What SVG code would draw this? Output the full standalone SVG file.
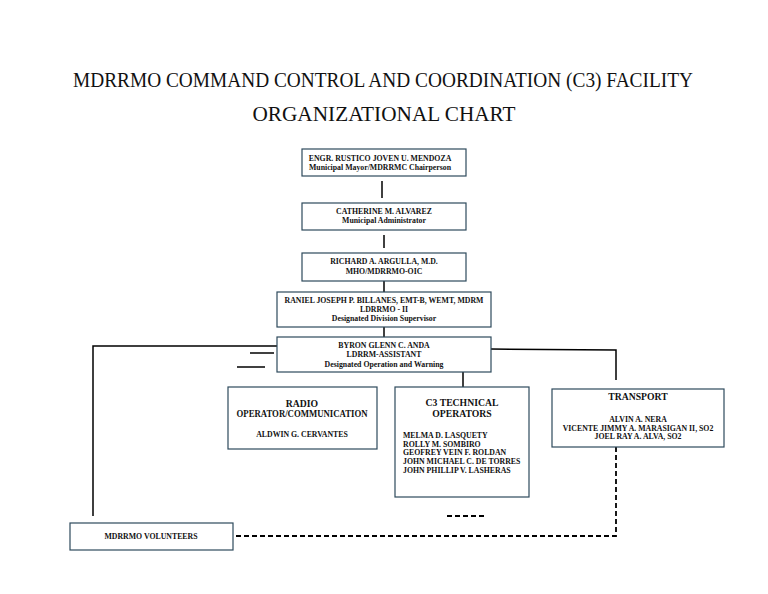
<svg xmlns="http://www.w3.org/2000/svg" width="768" height="594" viewBox="0 0 768 594">
<style>
.box{fill:#fff;stroke:#2e4a5c;stroke-width:1.2}
.t{font-family:"Liberation Serif",serif;font-weight:bold;font-size:7.8px;fill:#111;text-anchor:middle}
.h{font-family:"Liberation Serif",serif;font-weight:bold;font-size:9.7px;fill:#111;text-anchor:middle}
.l{font-family:"Liberation Serif",serif;font-weight:bold;font-size:7.8px;fill:#111}
.title{font-family:"Liberation Serif",serif;fill:#111;text-anchor:middle}
.c{stroke:#000;stroke-width:1.5;fill:none}
.d{stroke:#000;stroke-width:1.8;fill:none;stroke-dasharray:5,3}
</style>
<rect width="768" height="594" fill="#fff"/>
<text class="title" x="383" y="87" font-size="20" textLength="620" lengthAdjust="spacingAndGlyphs">MDRRMO COMMAND CONTROL AND COORDINATION (C3) FACILITY</text>
<text class="title" x="384" y="121" font-size="21" textLength="263" lengthAdjust="spacingAndGlyphs">ORGANIZATIONAL CHART</text>
<g id="connectors">
<line class="c" x1="382" y1="181" x2="382" y2="198" stroke-width="2"/>
<line class="c" x1="384" y1="235" x2="384" y2="248"/>
<line class="c" x1="384" y1="281" x2="384" y2="292" stroke-width="1"/>
<line class="c" x1="384" y1="327" x2="384" y2="337" stroke-width="1"/>
<polyline class="c" points="277,346 93,346 93,516"/>
<line class="c" x1="250" y1="353" x2="274" y2="353" stroke-width="2"/>
<line class="c" x1="237" y1="367" x2="265" y2="367"/>
<polyline class="c" points="491,349 616,350 616,380"/>
<line class="c" x1="463" y1="372" x2="463" y2="387"/>
<polyline class="d" points="616,447 616,536 233,536"/>
<line class="d" x1="447" y1="516" x2="485" y2="516"/>
</g>
<g id="mayor">
<rect class="box" x="302" y="149" width="164" height="27"/>
<text class="t" x="380" y="161">ENGR. RUSTICO JOVEN U. MENDOZA</text>
<text class="t" x="380" y="170">Municipal Mayor/MDRRMC Chairperson</text>
</g>
<g id="administrator">
<rect class="box" x="302" y="203" width="164" height="27"/>
<text class="t" x="384" y="214">CATHERINE M. ALVAREZ</text>
<text class="t" x="384" y="223">Municipal Administrator</text>
</g>
<g id="oic">
<rect class="box" x="302" y="253" width="164" height="28"/>
<text class="t" x="384" y="264">RICHARD A. ARGULLA, M.D.</text>
<text class="t" x="384" y="274">MHO/MDRRMO-OIC</text>
</g>
<g id="supervisor">
<rect class="box" x="277" y="292" width="214" height="35"/>
<text class="t" x="384" y="303">RANIEL JOSEPH P. BILLANES, EMT-B, WEMT, MDRM</text>
<text class="t" x="384" y="312">LDRRMO - II</text>
<text class="t" x="384" y="321">Designated Division Supervisor</text>
</g>
<g id="assistant">
<rect class="box" x="277" y="337" width="214" height="35"/>
<text class="t" x="384" y="348">BYRON GLENN C. ANDA</text>
<text class="t" x="384" y="357">LDRRM-ASSISTANT</text>
<text class="t" x="384" y="367">Designated Operation and Warning</text>
</g>
<g id="radio">
<rect class="box" x="228" y="387" width="149" height="62"/>
<text class="h" x="302" y="407">RADIO</text>
<text class="h" x="302" y="417" textLength="131" lengthAdjust="spacingAndGlyphs">OPERATOR/COMMUNICATION</text>
<text class="t" x="302" y="437">ALDWIN G. CERVANTES</text>
</g>
<g id="c3">
<rect class="box" x="395" y="387" width="134" height="110"/>
<text class="h" x="462" y="406">C3 TECHNICAL</text>
<text class="h" x="462" y="417">OPERATORS</text>
<text class="l" x="403" y="438">MELMA D. LASQUETY</text>
<text class="l" x="403" y="447">ROLLY M. SOMBIRO</text>
<text class="l" x="403" y="455">GEOFREY VEIN F. ROLDAN</text>
<text class="l" x="403" y="464">JOHN MICHAEL C. DE TORRES</text>
<text class="l" x="403" y="473">JOHN PHILLIP V. LASHERAS</text>
</g>
<g id="transport">
<rect class="box" x="552" y="389" width="172" height="58"/>
<text class="h" x="638" y="400">TRANSPORT</text>
<text class="t" x="638" y="422">ALVIN A. NERA</text>
<text class="t" x="638" y="431">VICENTE JIMMY A. MARASIGAN II, SO2</text>
<text class="t" x="638" y="439">JOEL RAY A. ALVA, SO2</text>
</g>
<g id="volunteers">
<rect class="box" x="70" y="523" width="163" height="27"/>
<text class="t" x="151" y="539">MDRRMO VOLUNTEERS</text>
</g>
</svg>
